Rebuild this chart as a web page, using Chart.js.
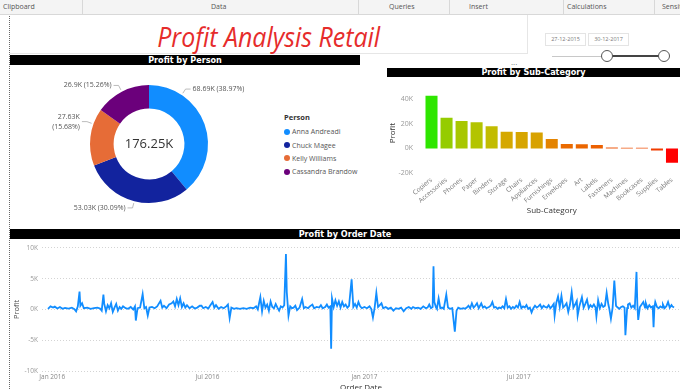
<!DOCTYPE html>
<html>
<head>
<meta charset="utf-8">
<script src="https://cdn.jsdelivr.net/npm/chart.js@4.4.1/dist/chart.umd.min.js"></script>
<style>
  body { margin: 0; width: 680px; height: 389px; overflow: hidden; background: #fff; position: relative; font-family: "Open Sans", sans-serif; }
  .abs { position: absolute; }
  #ribbon { left: 0; top: 0; width: 680px; height: 14px; background: #f4f4f4; border-bottom: 1px solid #d8d8d8; font-size: 7px; color: #555; overflow: hidden; }
  #ribbon span { position: absolute; top: 2px; white-space: nowrap; }
  #ribbon i { position: absolute; top: 0; width: 1px; height: 14px; background: #d8d8d8; }
  .hdr { background: #000; color: #fff; font: bold 9px "Liberation Sans Narrow", "DejaVu Sans Condensed", sans-serif; text-align: center; white-space: nowrap; }
  #titleBox { left: 10px; top: 15px; width: 517px; height: 38px; border-right: 1px solid #e6e6e6; border-bottom: 1px solid #e6e6e6; }
  #title { position: absolute; left: 0; top: 3px; width: 517px; text-align: center; color: #e62c2b; font: italic 400 27px "Open Sans", sans-serif; white-space: nowrap; }
  #title span { display: inline-block; transform-origin: center; }
  .dateBox { top: 33px; width: 39px; height: 11px; border: 1px solid #e4e4e4; font-size: 5.5px; color: #777; text-align: center; line-height: 11px; }
  .knob { width: 10px; height: 10px; border: 1.5px solid #555; border-radius: 50%; background: #fff; }
  #legend { left: 284px; top: 112px; font-size: 7px; color: #555; }
  #legend .ttl { font-weight: bold; color: #333; font-size: 7.5px; margin-bottom: 3px; }
  #legend .it { height: 13.4px; white-space: nowrap; display: flex; align-items: center; }
  #legend .dot { width: 6px; height: 6px; border-radius: 50%; margin-right: 2px; }
</style>
</head>
<body>
<div id="ribbon" class="abs">
  <span style="left:3px">Clipboard</span><i style="left:82px"></i>
  <span style="left:211px">Data</span><i style="left:358px"></i>
  <span style="left:389px">Queries</span><i style="left:449px"></i>
  <span style="left:469px">Insert</span><i style="left:563px"></i>
  <span style="left:567px">Calculations</span><i style="left:654px"></i>
  <span style="left:662px">Sensitivity</span>
</div>
<div class="abs" style="left:9px;top:16px;height:373px;border-left:1px dotted #666"></div>

<div id="titleBox" class="abs"><div id="title"><span id="titleText">Profit Analysis Retail</span></div></div>

<div class="abs dateBox" style="left:545px">27-12-2015</div>
<div class="abs dateBox" style="left:588px">30-12-2017</div>
<div class="abs" style="left:552px;top:56px;width:52px;height:1px;background:#c8c8c8"></div>
<div class="abs" style="left:607px;top:55px;width:57px;height:2px;background:#444"></div>
<div class="abs knob" style="left:601px;top:50px"></div>
<div class="abs knob" style="left:658px;top:50px"></div>

<div class="abs hdr" style="left:10px;top:55px;width:350px;height:10px;line-height:10px">Profit by Person</div>
<canvas id="donut" class="abs" width="270" height="163" style="left:10px;top:65px"></canvas>
<div id="legend" class="abs"><div class="ttl">Person</div></div>

<div class="abs" style="left:511px;top:58px;font-size:8px;color:#555">···</div>
<div class="abs hdr" style="left:387px;top:68px;width:293px;height:9px;line-height:9px">Profit by Sub-Category</div>
<canvas id="bars" class="abs" width="300" height="150" style="left:380px;top:78px"></canvas>

<div class="abs hdr" style="left:10px;top:229px;width:670px;height:10px;line-height:10px">Profit by Order Date</div>
<canvas id="line" class="abs" width="670" height="155" style="left:10px;top:240px"></canvas>

<script>
// profit per person, in thousands
const persons = ['Anna Andreadi', 'Chuck Magee', 'Kelly Williams', 'Cassandra Brandow'];
const personProfit = [68.69, 53.03, 27.63, 26.9];
const personColors = ['#118DFF', '#12239E', '#E66C37', '#6B007B'];

const subCategories = ['Copiers', 'Accessories', 'Phones', 'Paper', 'Binders', 'Storage', 'Chairs',
  'Appliances', 'Furnishings', 'Envelopes', 'Art', 'Labels', 'Fasteners', 'Machines', 'Bookcases',
  'Supplies', 'Tables'];
const subProfit = [42900, 25000, 22400, 21300, 18100, 13600, 13400, 13000, 7700, 3700, 3500, 2900,
  800, 600, 500, -1600, -11700];
const barColors = ['#2ee600', '#95cc00', '#a8c700', '#b3c400', '#c2bc00', '#d5a800', '#d6a500',
  '#d8a200', '#e48400', '#ea6a00', '#eb6600', '#ec6000', '#ee5a10', '#ee5810', '#ef5510', '#f03c00', '#ff0000'];
const subTicks = [-20000, 0, 20000, 40000];

// order date = days after 27-12-2015
const orderDay = [
  0,3,6,8,11,14,17,20,24,28,
  31,33,35,37,38,40,42,46,50,54,
  58,61,63,65,66,68,70,72,74,76,
  78,80,82,84,86,88,91,94,97,100,
  102,103,105,108,111,113,115,117,119,122,
  125,128,132,134,136,139,142,145,147,149,
  151,153,155,157,159,161,163,166,169,172,
  175,178,180,182,185,188,190,193,195,197,
  200,203,206,209,211,213,215,218,221,225,
  229,233,237,241,244,246,249,251,253,255,
  257,259,261,263,265,267,269,271,273,275,
  277,279,280,282,284,286,288,290,292,295,
  298,300,302,305,307,310,312,315,318,320,
  322,325,327,329,331,332,333,335,337,339,
  341,343,345,347,349,351,353,356,358,360,
  362,364,366,368,371,374,377,379,381,383,
  385,387,389,391,393,396,399,402,405,408,
  411,414,417,420,423,426,428,431,434,437,
  440,443,445,447,449,451,452,453,455,456,
  458,460,462,464,467,469,471,474,477,479,
  481,484,487,489,491,493,495,497,499,501,
  503,505,508,510,512,514,517,519,521,523,
  525,527,529,531,533,535,537,539,541,543,
  545,547,549,551,553,555,557,559,561,563,
  565,567,569,571,573,575,577,579,581,583,
  585,587,589,591,593,594,596,598,600,602,
  604,606,608,610,612,614,616,618,620,621,
  623,626,628,630,632,634,636,638,640,642,
  643,645,647,649,651,653,655,657,658,660,
  662,664,666,668,670,672,674,676,677,679,
  680,682,684,686,688,690,691,692,694,696,
  698,700,701,703,705,707,709,710,711,712,
  714,716,718,720,721,723,725,727,729,731,
  732,734];
const orderProfit = [
  100,500,300,450,150,400,100,250,150,300,
  50,-300,500,2900,600,1000,200,300,100,200,
  300,150,-200,2400,900,-300,700,200,1000,-400,
  300,900,-200,400,100,500,200,100,400,0,
  500,-1800,200,300,2500,200,400,-1000,300,400,
  200,500,1400,300,600,200,800,1000,1300,500,
  1700,700,1800,400,1000,300,700,200,500,150,
  300,600,600,200,400,150,600,1200,300,700,
  100,400,200,500,800,-1400,300,100,200,100,
  200,100,300,200,500,0,2000,-300,1400,300,
  800,-200,1300,400,200,900,300,-200,500,300,
  700,9000,2800,-1000,500,200,300,600,-100,300,
  1700,200,400,200,500,800,200,400,300,700,
  200,400,800,300,500,-6400,1800,400,1500,600,
  1300,300,1200,500,800,300,600,4900,400,900,
  300,1200,500,200,400,200,500,100,-1300,300,
  2700,400,700,1000,200,400,100,300,-200,200,
  100,300,-300,200,400,100,400,200,300,100,
  500,200,300,800,200,400,7000,1200,300,100,
  1800,200,300,100,2400,300,100,200,-3600,-200,
  300,100,200,100,300,600,200,1000,300,600,
  1000,200,1000,300,500,200,400,600,1200,300,
  400,100,300,200,500,200,1700,300,500,100,
  400,200,600,300,1200,200,500,300,700,100,
  300,-500,200,600,300,500,800,200,600,400,
  300,700,200,500,900,-1000,1100,2100,400,2200,
  300,600,1000,-400,800,2800,300,800,1400,-1000,
  500,2000,300,900,1600,200,700,400,800,300,
  -1100,1500,200,900,400,600,2700,800,200,-1500,
  300,4700,600,300,100,400,500,300,-4200,200,
  800,1000,300,600,200,6100,800,-1700,400,800,
  1200,300,1000,200,700,300,500,-2900,300,1200,
  400,200,500,300,800,200,500,1200,300,700,
  500,300];
const dateTickDays = [5, 187, 371, 552];
const dateTickLabels = ['Jan 2016', 'Jul 2016', 'Jan 2017', 'Jul 2017'];
const profitTicks = [-10000, -5000, 0, 5000, 10000];

Chart.defaults.font.family = '"Open Sans", sans-serif';
Chart.defaults.animation = false;

// squeeze the title to the reference width
const tt = document.getElementById('titleText');
tt.style.transform = 'scaleX(' + (223 / tt.getBoundingClientRect().width) + ')';

// legend for the donut
const legend = document.getElementById('legend');
persons.forEach((p, i) => {
  const row = document.createElement('div');
  row.className = 'it';
  row.innerHTML = '<span class="dot" style="background:' + personColors[i] + '"></span>' + p;
  legend.appendChild(row);
});

const fmtK = v => +v.toFixed(2) + 'K';

const donutLabels = {
  id: 'donutLabels',
  afterDatasetsDraw(chart, args, opts) {
    const ctx = chart.ctx;
    const meta = chart.getDatasetMeta(0);
    const total = personProfit.reduce((a, b) => a + b, 0);
    ctx.save();
    ctx.font = '7px "Open Sans"';
    ctx.fillStyle = '#555';
    ctx.strokeStyle = '#aaa';
    ctx.lineWidth = 0.8;
    meta.data.forEach((arc, i) => {
      const p = arc.getProps(['x', 'y', 'startAngle', 'endAngle', 'outerRadius']);
      const a = p.startAngle + opts.anchor[i] * (p.endAngle - p.startAngle);
      const c = Math.cos(a), s = Math.sin(a);
      const x1 = p.x + c * (p.outerRadius + 2), y1 = p.y + s * (p.outerRadius + 2);
      const x2 = x1 + c * 5, y2 = y1 + s * 5;
      const side = c >= 0 ? 1 : -1;
      const x3 = x2 + side * 5;
      ctx.beginPath();
      ctx.moveTo(x1, y1); ctx.lineTo(x2, y2); ctx.lineTo(x3, y2);
      ctx.stroke();
      const v = fmtK(personProfit[i]);
      const pct = '(' + (personProfit[i] / total * 100).toFixed(2) + '%)';
      let lines = [v + ' ' + pct];
      const tx = x3 + side * 2;
      ctx.textAlign = side > 0 ? 'left' : 'right';
      ctx.textBaseline = 'middle';
      if (side < 0 && tx - ctx.measureText(lines[0]).width < opts.minLeft) lines = [v, pct];
      lines.forEach((t, k) => ctx.fillText(t, tx, y2 + (k - (lines.length - 1) / 2) * 10));
    });
    ctx.font = '13px "Open Sans"';
    ctx.fillStyle = '#333';
    ctx.textAlign = 'center';
    ctx.textBaseline = 'middle';
    ctx.fillText(fmtK(total), meta.data[0].x, meta.data[0].y);
    ctx.restore();
  }
};

new Chart(document.getElementById('donut'), {
  type: 'doughnut',
  data: {
    labels: persons,
    datasets: [{ data: personProfit, backgroundColor: personColors, borderWidth: 0, hoverOffset: 0 }]
  },
  options: {
    responsive: false,
    events: [],
    cutout: '60%',
    layout: { padding: { left: 80, right: 72, top: 20, bottom: 25 } },
    plugins: {
      legend: { display: false },
      tooltip: { enabled: false },
      donutLabels: { anchor: [0.24, 0.5, 0.73, 0.5], minLeft: 30 }
    }
  },
  plugins: [donutLabels]
});

new Chart(document.getElementById('bars'), {
  type: 'bar',
  data: {
    labels: subCategories,
    datasets: [{ data: subProfit, backgroundColor: barColors, barPercentage: 0.8, categoryPercentage: 1 }]
  },
  options: {
    responsive: false,
    events: [],
    layout: { padding: { top: 14, bottom: 12, left: 0, right: 0 } },
    plugins: { legend: { display: false }, tooltip: { enabled: false } },
    scales: {
      x: {
        grid: { display: false, drawTicks: false },
        border: { display: false },
        ticks: { color: '#777', font: { size: 6.5 }, minRotation: 40, maxRotation: 40, padding: 3, autoSkip: false },
        title: { display: true, text: 'Sub-Category', color: '#333', font: { size: 8 }, padding: 0 },
        afterFit(s) { s.height = 43; }
      },
      y: {
        min: -20000,
        max: 45000,
        afterBuildTicks(s) { s.ticks = subTicks.map(v => ({ value: v })); },
        grid: { display: false, drawTicks: false },
        border: { display: false },
        ticks: { color: '#999', font: { size: 7 }, padding: 11, callback: v => v / 1000 + 'K' },
        title: { display: true, text: 'Profit', color: '#333', font: { size: 8 }, padding: { top: 8, bottom: 0 } },
        afterFit(s) { s.width = 44; }
      }
    }
  }
});

new Chart(document.getElementById('line'), {
  type: 'line',
  data: {
    datasets: [{
      data: orderDay.map((d, i) => ({ x: d, y: orderProfit[i] })),
      borderColor: '#118DFF',
      borderWidth: 1.8,
      pointRadius: 0,
      tension: 0
    }]
  },
  options: {
    responsive: false,
    events: [],
    layout: { padding: { top: 7, bottom: 2, left: 0, right: 0 } },
    plugins: { legend: { display: false }, tooltip: { enabled: false } },
    scales: {
      x: {
        type: 'linear',
        min: -7,
        max: 741,
        afterBuildTicks(s) { s.ticks = dateTickDays.map(v => ({ value: v })); },
        grid: { display: false, drawTicks: false },
        border: { display: false },
        ticks: { color: '#888', font: { size: 6.5 }, padding: 2, maxRotation: 0, autoSkip: false,
          callback: v => dateTickLabels[dateTickDays.indexOf(v)] },
        title: { display: true, text: 'Order Date', color: '#333', font: { size: 8 }, padding: 0 },
        afterFit(s) { s.height = 22; }
      },
      y: {
        min: -10000,
        max: 10000,
        afterBuildTicks(s) { s.ticks = profitTicks.map(v => ({ value: v })); },
        grid: { color: '#d4d4d4', drawTicks: false },
        border: { display: false, dash: [1, 2] },
        ticks: { color: '#999', font: { size: 6.5 }, padding: 4, callback: v => v / 1000 + 'K' },
        title: { display: true, text: 'Profit', color: '#444', font: { size: 7.5 }, padding: { top: 2, bottom: 0 } },
        afterFit(s) { s.width = 32; }
      }
    }
  }
});
</script>
</body>
</html>
